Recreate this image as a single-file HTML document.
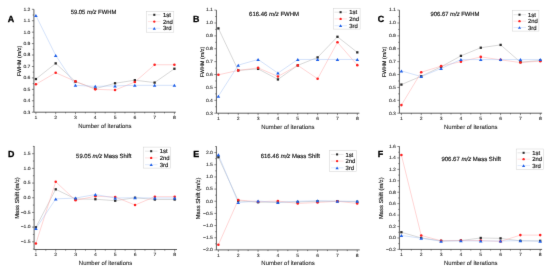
<!DOCTYPE html>
<html><head><meta charset="utf-8"><style>
html,body{margin:0;padding:0;background:#fff;}
svg{display:block;}
text{font-family:"Liberation Sans", Arial, sans-serif;fill:#333333;text-rendering:geometricPrecision;}
.tl{font-size:4.5px;fill:#222;stroke:#333;stroke-width:0.08px;}
.xl{font-size:6px;fill:#1a1a1a;stroke:#1a1a1a;stroke-width:0.08px;}
.yl{font-size:5.5px;fill:#1a1a1a;stroke:#1a1a1a;stroke-width:0.14px;}
.tt{font-size:6px;fill:#111;stroke:#111;stroke-width:0.15px;}
.lt{font-size:8.9px;font-weight:bold;fill:#000;stroke:#000;stroke-width:0.3px;}
.lg{font-size:5.9px;fill:#111;stroke:#111;stroke-width:0.15px;}
</style></head><body>
<svg width="550" height="274" viewBox="0 0 550 274">
<defs><filter id="soft" x="0" y="0" width="550" height="274" filterUnits="userSpaceOnUse" color-interpolation-filters="sRGB"><feConvolveMatrix order="3" kernelMatrix="0.0049 0.0602 0.0049 0.0602 0.7396 0.0602 0.0049 0.0602 0.0049" edgeMode="duplicate"/></filter></defs>
<g filter="url(#soft)">
<rect width="550" height="274" fill="#fff"/>
<g><path d="M33.90,9.30 V112.20 H175.80" fill="none" stroke="#3a3a3a" stroke-width="0.8"/>
<text transform="translate(30.40,113.55) scale(1.12,1)" text-anchor="end" class="tl">0.3</text>
<text transform="translate(30.40,102.12) scale(1.12,1)" text-anchor="end" class="tl">0.4</text>
<text transform="translate(30.40,90.68) scale(1.12,1)" text-anchor="end" class="tl">0.5</text>
<text transform="translate(30.40,79.25) scale(1.12,1)" text-anchor="end" class="tl">0.6</text>
<text transform="translate(30.40,67.82) scale(1.12,1)" text-anchor="end" class="tl">0.7</text>
<text transform="translate(30.40,56.38) scale(1.12,1)" text-anchor="end" class="tl">0.8</text>
<text transform="translate(30.40,44.95) scale(1.12,1)" text-anchor="end" class="tl">0.9</text>
<text transform="translate(30.40,33.52) scale(1.12,1)" text-anchor="end" class="tl">1.0</text>
<text transform="translate(30.40,22.08) scale(1.12,1)" text-anchor="end" class="tl">1.1</text>
<text transform="translate(30.40,10.65) scale(1.12,1)" text-anchor="end" class="tl">1.2</text>
<text transform="translate(35.90,118.90) scale(1.12,1)" text-anchor="middle" class="tl">1</text>
<text transform="translate(55.69,118.90) scale(1.12,1)" text-anchor="middle" class="tl">2</text>
<text transform="translate(75.47,118.90) scale(1.12,1)" text-anchor="middle" class="tl">3</text>
<text transform="translate(95.26,118.90) scale(1.12,1)" text-anchor="middle" class="tl">4</text>
<text transform="translate(115.04,118.90) scale(1.12,1)" text-anchor="middle" class="tl">5</text>
<text transform="translate(134.83,118.90) scale(1.12,1)" text-anchor="middle" class="tl">6</text>
<text transform="translate(154.61,118.90) scale(1.12,1)" text-anchor="middle" class="tl">7</text>
<text transform="translate(174.40,118.90) scale(1.12,1)" text-anchor="middle" class="tl">8</text>
<path d="M33.90,112.20 h-2 M33.90,100.77 h-2 M33.90,89.33 h-2 M33.90,77.90 h-2 M33.90,66.47 h-2 M33.90,55.03 h-2 M33.90,43.60 h-2 M33.90,32.17 h-2 M33.90,20.73 h-2 M33.90,9.30 h-2 M33.90,106.48 h-1.2 M33.90,95.05 h-1.2 M33.90,83.62 h-1.2 M33.90,72.18 h-1.2 M33.90,60.75 h-1.2 M33.90,49.32 h-1.2 M33.90,37.88 h-1.2 M33.90,26.45 h-1.2 M33.90,15.02 h-1.2 M35.90,112.20 v2 M45.79,112.20 v1.2 M55.69,112.20 v2 M65.58,112.20 v1.2 M75.47,112.20 v2 M85.36,112.20 v1.2 M95.26,112.20 v2 M105.15,112.20 v1.2 M115.04,112.20 v2 M124.94,112.20 v1.2 M134.83,112.20 v2 M144.72,112.20 v1.2 M154.61,112.20 v2 M164.51,112.20 v1.2 M174.40,112.20 v2" stroke="#3a3a3a" stroke-width="0.6" fill="none"/>
<text x="104.85" y="127.50" text-anchor="middle" class="xl" textLength="53.4" lengthAdjust="spacingAndGlyphs">Number of iterations</text>
<text transform="translate(20.70,61.05) rotate(-90)" text-anchor="middle" class="yl" style="font-size:5.4px">FWHM (m/z)</text>
<text x="70.70" y="14.10" class="tt" textLength="45.60" lengthAdjust="spacingAndGlyphs">59.05 <tspan font-style="italic">m/z</tspan> FWHM</text>
<text x="7.70" y="22.10" class="lt">A</text>
<polyline points="35.90,79.04 55.69,63.38 75.47,81.67 95.26,88.76 115.04,83.27 134.83,80.19 154.61,82.59 174.40,68.75" fill="none" stroke="#b0b0b0" stroke-width="0.5"/>
<polyline points="35.90,84.30 55.69,72.76 75.47,81.33 95.26,89.33 115.04,90.02 134.83,82.02 154.61,64.75 174.40,64.75" fill="none" stroke="#ffaaaa" stroke-width="0.5"/>
<polyline points="35.90,15.59 55.69,55.38 75.47,85.33 95.26,86.36 115.04,85.90 134.83,85.33 154.61,85.33 174.40,85.33" fill="none" stroke="#a8c4f4" stroke-width="0.5"/>
<rect x="34.75" y="77.89" width="2.30" height="2.30" fill="#2a2a2a"/>
<rect x="54.54" y="62.23" width="2.30" height="2.30" fill="#2a2a2a"/>
<rect x="74.32" y="80.52" width="2.30" height="2.30" fill="#2a2a2a"/>
<rect x="94.11" y="87.61" width="2.30" height="2.30" fill="#2a2a2a"/>
<rect x="113.89" y="82.12" width="2.30" height="2.30" fill="#2a2a2a"/>
<rect x="133.68" y="79.04" width="2.30" height="2.30" fill="#2a2a2a"/>
<rect x="153.46" y="81.44" width="2.30" height="2.30" fill="#2a2a2a"/>
<rect x="173.25" y="67.60" width="2.30" height="2.30" fill="#2a2a2a"/>
<circle cx="35.90" cy="84.30" r="1.30" fill="#ff1f1f"/>
<circle cx="55.69" cy="72.76" r="1.30" fill="#ff1f1f"/>
<circle cx="75.47" cy="81.33" r="1.30" fill="#ff1f1f"/>
<circle cx="95.26" cy="89.33" r="1.30" fill="#ff1f1f"/>
<circle cx="115.04" cy="90.02" r="1.30" fill="#ff1f1f"/>
<circle cx="134.83" cy="82.02" r="1.30" fill="#ff1f1f"/>
<circle cx="154.61" cy="64.75" r="1.30" fill="#ff1f1f"/>
<circle cx="174.40" cy="64.75" r="1.30" fill="#ff1f1f"/>
<polygon points="35.90,14.09 37.70,17.09 34.10,17.09" fill="#1f5fe8"/>
<polygon points="55.69,53.88 57.49,56.88 53.89,56.88" fill="#1f5fe8"/>
<polygon points="75.47,83.83 77.27,86.83 73.67,86.83" fill="#1f5fe8"/>
<polygon points="95.26,84.86 97.06,87.86 93.46,87.86" fill="#1f5fe8"/>
<polygon points="115.04,84.40 116.84,87.40 113.24,87.40" fill="#1f5fe8"/>
<polygon points="134.83,83.83 136.63,86.83 133.03,86.83" fill="#1f5fe8"/>
<polygon points="154.61,83.83 156.41,86.83 152.81,86.83" fill="#1f5fe8"/>
<polygon points="174.40,83.83 176.20,86.83 172.60,86.83" fill="#1f5fe8"/>
<rect x="146.40" y="11.40" width="27.40" height="20.80" fill="#fff" stroke="#d2d2d2" stroke-width="0.5"/>
<path d="M147.90,14.80 H160.40" stroke="#cccccc" stroke-width="0.5"/>
<rect x="153.27" y="13.77" width="2.07" height="2.07" fill="#2a2a2a"/>
<text x="163.00" y="16.90" class="lg">1st</text>
<path d="M147.90,21.60 H160.40" stroke="#ffc4c4" stroke-width="0.5"/>
<circle cx="154.30" cy="21.60" r="1.17" fill="#ff1f1f"/>
<text x="163.00" y="23.70" class="lg">2nd</text>
<path d="M147.90,28.30 H160.40" stroke="#c4d6f8" stroke-width="0.5"/>
<polygon points="154.30,26.95 155.92,29.65 152.68,29.65" fill="#1f5fe8"/>
<text x="163.00" y="30.40" class="lg">3rd</text></g>
<g><path d="M216.40,10.10 V113.20 H359.40" fill="none" stroke="#3a3a3a" stroke-width="0.8"/>
<text transform="translate(212.90,114.55) scale(1.12,1)" text-anchor="end" class="tl">0.3</text>
<text transform="translate(212.90,101.66) scale(1.12,1)" text-anchor="end" class="tl">0.4</text>
<text transform="translate(212.90,88.78) scale(1.12,1)" text-anchor="end" class="tl">0.5</text>
<text transform="translate(212.90,75.89) scale(1.12,1)" text-anchor="end" class="tl">0.6</text>
<text transform="translate(212.90,63.00) scale(1.12,1)" text-anchor="end" class="tl">0.7</text>
<text transform="translate(212.90,50.11) scale(1.12,1)" text-anchor="end" class="tl">0.8</text>
<text transform="translate(212.90,37.23) scale(1.12,1)" text-anchor="end" class="tl">0.9</text>
<text transform="translate(212.90,24.34) scale(1.12,1)" text-anchor="end" class="tl">1.0</text>
<text transform="translate(212.90,11.45) scale(1.12,1)" text-anchor="end" class="tl">1.1</text>
<text transform="translate(218.40,119.90) scale(1.12,1)" text-anchor="middle" class="tl">1</text>
<text transform="translate(238.24,119.90) scale(1.12,1)" text-anchor="middle" class="tl">2</text>
<text transform="translate(258.09,119.90) scale(1.12,1)" text-anchor="middle" class="tl">3</text>
<text transform="translate(277.93,119.90) scale(1.12,1)" text-anchor="middle" class="tl">4</text>
<text transform="translate(297.77,119.90) scale(1.12,1)" text-anchor="middle" class="tl">5</text>
<text transform="translate(317.61,119.90) scale(1.12,1)" text-anchor="middle" class="tl">6</text>
<text transform="translate(337.46,119.90) scale(1.12,1)" text-anchor="middle" class="tl">7</text>
<text transform="translate(357.30,119.90) scale(1.12,1)" text-anchor="middle" class="tl">8</text>
<path d="M216.40,113.20 h-2 M216.40,100.31 h-2 M216.40,87.43 h-2 M216.40,74.54 h-2 M216.40,61.65 h-2 M216.40,48.76 h-2 M216.40,35.88 h-2 M216.40,22.99 h-2 M216.40,10.10 h-2 M216.40,106.76 h-1.2 M216.40,93.87 h-1.2 M216.40,80.98 h-1.2 M216.40,68.09 h-1.2 M216.40,55.21 h-1.2 M216.40,42.32 h-1.2 M216.40,29.43 h-1.2 M216.40,16.54 h-1.2 M218.40,113.20 v2 M228.32,113.20 v1.2 M238.24,113.20 v2 M248.16,113.20 v1.2 M258.09,113.20 v2 M268.01,113.20 v1.2 M277.93,113.20 v2 M287.85,113.20 v1.2 M297.77,113.20 v2 M307.69,113.20 v1.2 M317.61,113.20 v2 M327.54,113.20 v1.2 M337.46,113.20 v2 M347.38,113.20 v1.2 M357.30,113.20 v2" stroke="#3a3a3a" stroke-width="0.6" fill="none"/>
<text x="287.90" y="128.50" text-anchor="middle" class="xl" textLength="53.4" lengthAdjust="spacingAndGlyphs">Number of iterations</text>
<text transform="translate(204.00,61.95) rotate(-90)" text-anchor="middle" class="yl" style="font-size:5.4px">FWHM (m/z)</text>
<text x="249.10" y="15.90" class="tt" textLength="49.90" lengthAdjust="spacingAndGlyphs">616.46 <tspan font-style="italic">m/z</tspan> FWHM</text>
<text x="192.90" y="22.10" class="lt">B</text>
<polyline points="218.40,28.40 238.24,70.41 258.09,68.87 277.93,79.43 297.77,65.39 317.61,57.40 337.46,36.78 357.30,52.37" fill="none" stroke="#b0b0b0" stroke-width="0.5"/>
<polyline points="218.40,74.80 238.24,70.41 258.09,67.84 277.93,76.47 297.77,65.39 317.61,78.79 337.46,42.32 357.30,65.13" fill="none" stroke="#ffaaaa" stroke-width="0.5"/>
<polyline points="218.40,96.19 238.24,65.13 258.09,59.46 277.93,73.12 297.77,59.46 317.61,59.46 337.46,59.46 357.30,59.46" fill="none" stroke="#a8c4f4" stroke-width="0.5"/>
<rect x="217.25" y="27.25" width="2.30" height="2.30" fill="#2a2a2a"/>
<rect x="237.09" y="69.26" width="2.30" height="2.30" fill="#2a2a2a"/>
<rect x="256.94" y="67.72" width="2.30" height="2.30" fill="#2a2a2a"/>
<rect x="276.78" y="78.28" width="2.30" height="2.30" fill="#2a2a2a"/>
<rect x="296.62" y="64.24" width="2.30" height="2.30" fill="#2a2a2a"/>
<rect x="316.46" y="56.25" width="2.30" height="2.30" fill="#2a2a2a"/>
<rect x="336.31" y="35.63" width="2.30" height="2.30" fill="#2a2a2a"/>
<rect x="356.15" y="51.22" width="2.30" height="2.30" fill="#2a2a2a"/>
<circle cx="218.40" cy="74.80" r="1.30" fill="#ff1f1f"/>
<circle cx="238.24" cy="70.41" r="1.30" fill="#ff1f1f"/>
<circle cx="258.09" cy="67.84" r="1.30" fill="#ff1f1f"/>
<circle cx="277.93" cy="76.47" r="1.30" fill="#ff1f1f"/>
<circle cx="297.77" cy="65.39" r="1.30" fill="#ff1f1f"/>
<circle cx="317.61" cy="78.79" r="1.30" fill="#ff1f1f"/>
<circle cx="337.46" cy="42.32" r="1.30" fill="#ff1f1f"/>
<circle cx="357.30" cy="65.13" r="1.30" fill="#ff1f1f"/>
<polygon points="218.40,94.69 220.20,97.69 216.60,97.69" fill="#1f5fe8"/>
<polygon points="238.24,63.63 240.04,66.63 236.44,66.63" fill="#1f5fe8"/>
<polygon points="258.09,57.96 259.89,60.96 256.29,60.96" fill="#1f5fe8"/>
<polygon points="277.93,71.62 279.73,74.62 276.13,74.62" fill="#1f5fe8"/>
<polygon points="297.77,57.96 299.57,60.96 295.97,60.96" fill="#1f5fe8"/>
<polygon points="317.61,57.96 319.41,60.96 315.81,60.96" fill="#1f5fe8"/>
<polygon points="337.46,57.96 339.26,60.96 335.66,60.96" fill="#1f5fe8"/>
<polygon points="357.30,57.96 359.10,60.96 355.50,60.96" fill="#1f5fe8"/>
<rect x="333.30" y="8.40" width="26.80" height="20.70" fill="#fff" stroke="#d2d2d2" stroke-width="0.5"/>
<path d="M334.50,12.20 H347.00" stroke="#cccccc" stroke-width="0.5"/>
<rect x="339.56" y="11.16" width="2.07" height="2.07" fill="#2a2a2a"/>
<text x="349.20" y="14.30" class="lg">1st</text>
<path d="M334.50,18.90 H347.00" stroke="#ffc4c4" stroke-width="0.5"/>
<circle cx="340.60" cy="18.90" r="1.17" fill="#ff1f1f"/>
<text x="349.20" y="21.00" class="lg">2nd</text>
<path d="M334.50,25.70 H347.00" stroke="#c4d6f8" stroke-width="0.5"/>
<polygon points="340.60,24.35 342.22,27.05 338.98,27.05" fill="#1f5fe8"/>
<text x="349.20" y="27.80" class="lg">3rd</text></g>
<g><path d="M399.40,10.10 V113.20 H542.10" fill="none" stroke="#3a3a3a" stroke-width="0.8"/>
<text transform="translate(395.90,114.55) scale(1.12,1)" text-anchor="end" class="tl">0.3</text>
<text transform="translate(395.90,101.66) scale(1.12,1)" text-anchor="end" class="tl">0.4</text>
<text transform="translate(395.90,88.78) scale(1.12,1)" text-anchor="end" class="tl">0.5</text>
<text transform="translate(395.90,75.89) scale(1.12,1)" text-anchor="end" class="tl">0.6</text>
<text transform="translate(395.90,63.00) scale(1.12,1)" text-anchor="end" class="tl">0.7</text>
<text transform="translate(395.90,50.11) scale(1.12,1)" text-anchor="end" class="tl">0.8</text>
<text transform="translate(395.90,37.23) scale(1.12,1)" text-anchor="end" class="tl">0.9</text>
<text transform="translate(395.90,24.34) scale(1.12,1)" text-anchor="end" class="tl">1.0</text>
<text transform="translate(395.90,11.45) scale(1.12,1)" text-anchor="end" class="tl">1.1</text>
<text transform="translate(401.40,119.90) scale(1.12,1)" text-anchor="middle" class="tl">1</text>
<text transform="translate(421.24,119.90) scale(1.12,1)" text-anchor="middle" class="tl">2</text>
<text transform="translate(441.09,119.90) scale(1.12,1)" text-anchor="middle" class="tl">3</text>
<text transform="translate(460.93,119.90) scale(1.12,1)" text-anchor="middle" class="tl">4</text>
<text transform="translate(480.77,119.90) scale(1.12,1)" text-anchor="middle" class="tl">5</text>
<text transform="translate(500.61,119.90) scale(1.12,1)" text-anchor="middle" class="tl">6</text>
<text transform="translate(520.46,119.90) scale(1.12,1)" text-anchor="middle" class="tl">7</text>
<text transform="translate(540.30,119.90) scale(1.12,1)" text-anchor="middle" class="tl">8</text>
<path d="M399.40,113.20 h-2 M399.40,100.31 h-2 M399.40,87.43 h-2 M399.40,74.54 h-2 M399.40,61.65 h-2 M399.40,48.76 h-2 M399.40,35.88 h-2 M399.40,22.99 h-2 M399.40,10.10 h-2 M399.40,106.76 h-1.2 M399.40,93.87 h-1.2 M399.40,80.98 h-1.2 M399.40,68.09 h-1.2 M399.40,55.21 h-1.2 M399.40,42.32 h-1.2 M399.40,29.43 h-1.2 M399.40,16.54 h-1.2 M401.40,113.20 v2 M411.32,113.20 v1.2 M421.24,113.20 v2 M431.16,113.20 v1.2 M441.09,113.20 v2 M451.01,113.20 v1.2 M460.93,113.20 v2 M470.85,113.20 v1.2 M480.77,113.20 v2 M490.69,113.20 v1.2 M500.61,113.20 v2 M510.54,113.20 v1.2 M520.46,113.20 v2 M530.38,113.20 v1.2 M540.30,113.20 v2" stroke="#3a3a3a" stroke-width="0.6" fill="none"/>
<text x="470.75" y="128.50" text-anchor="middle" class="xl" textLength="53.4" lengthAdjust="spacingAndGlyphs">Number of iterations</text>
<text transform="translate(385.80,61.95) rotate(-90)" text-anchor="middle" class="yl" style="font-size:5.4px">FWHM (m/z)</text>
<text x="430.50" y="15.90" class="tt" textLength="49.00" lengthAdjust="spacingAndGlyphs">906.67 <tspan font-style="italic">m/z</tspan> FWHM</text>
<text x="377.70" y="22.30" class="lt">C</text>
<polyline points="401.40,84.59 421.24,76.21 441.09,66.81 460.93,55.85 480.77,47.73 500.61,44.90 520.46,62.17 540.30,60.49" fill="none" stroke="#b0b0b0" stroke-width="0.5"/>
<polyline points="401.40,105.08 421.24,72.22 441.09,66.16 460.93,61.65 480.77,56.88 500.61,59.85 520.46,62.55 540.30,61.13" fill="none" stroke="#ffaaaa" stroke-width="0.5"/>
<polyline points="401.40,70.93 421.24,76.60 441.09,68.48 460.93,59.59 480.77,59.59 500.61,59.59 520.46,59.59 540.30,59.59" fill="none" stroke="#a8c4f4" stroke-width="0.5"/>
<rect x="400.25" y="83.44" width="2.30" height="2.30" fill="#2a2a2a"/>
<rect x="420.09" y="75.06" width="2.30" height="2.30" fill="#2a2a2a"/>
<rect x="439.94" y="65.66" width="2.30" height="2.30" fill="#2a2a2a"/>
<rect x="459.78" y="54.70" width="2.30" height="2.30" fill="#2a2a2a"/>
<rect x="479.62" y="46.58" width="2.30" height="2.30" fill="#2a2a2a"/>
<rect x="499.46" y="43.75" width="2.30" height="2.30" fill="#2a2a2a"/>
<rect x="519.31" y="61.02" width="2.30" height="2.30" fill="#2a2a2a"/>
<rect x="539.15" y="59.34" width="2.30" height="2.30" fill="#2a2a2a"/>
<circle cx="401.40" cy="105.08" r="1.30" fill="#ff1f1f"/>
<circle cx="421.24" cy="72.22" r="1.30" fill="#ff1f1f"/>
<circle cx="441.09" cy="66.16" r="1.30" fill="#ff1f1f"/>
<circle cx="460.93" cy="61.65" r="1.30" fill="#ff1f1f"/>
<circle cx="480.77" cy="56.88" r="1.30" fill="#ff1f1f"/>
<circle cx="500.61" cy="59.85" r="1.30" fill="#ff1f1f"/>
<circle cx="520.46" cy="62.55" r="1.30" fill="#ff1f1f"/>
<circle cx="540.30" cy="61.13" r="1.30" fill="#ff1f1f"/>
<polygon points="401.40,69.43 403.20,72.43 399.60,72.43" fill="#1f5fe8"/>
<polygon points="421.24,75.10 423.04,78.10 419.44,78.10" fill="#1f5fe8"/>
<polygon points="441.09,66.98 442.89,69.98 439.29,69.98" fill="#1f5fe8"/>
<polygon points="460.93,58.09 462.73,61.09 459.13,61.09" fill="#1f5fe8"/>
<polygon points="480.77,58.09 482.57,61.09 478.97,61.09" fill="#1f5fe8"/>
<polygon points="500.61,58.09 502.41,61.09 498.81,61.09" fill="#1f5fe8"/>
<polygon points="520.46,58.09 522.26,61.09 518.66,61.09" fill="#1f5fe8"/>
<polygon points="540.30,58.09 542.10,61.09 538.50,61.09" fill="#1f5fe8"/>
<rect x="512.40" y="10.40" width="26.50" height="20.70" fill="#fff" stroke="#d2d2d2" stroke-width="0.5"/>
<path d="M513.50,14.70 H526.00" stroke="#cccccc" stroke-width="0.5"/>
<rect x="518.47" y="13.66" width="2.07" height="2.07" fill="#2a2a2a"/>
<text x="528.00" y="16.80" class="lg">1st</text>
<path d="M513.50,21.20 H526.00" stroke="#ffc4c4" stroke-width="0.5"/>
<circle cx="519.50" cy="21.20" r="1.17" fill="#ff1f1f"/>
<text x="528.00" y="23.30" class="lg">2nd</text>
<path d="M513.50,27.50 H526.00" stroke="#c4d6f8" stroke-width="0.5"/>
<polygon points="519.50,26.15 521.12,28.85 517.88,28.85" fill="#1f5fe8"/>
<text x="528.00" y="29.60" class="lg">3rd</text></g>
<g><path d="M34.10,146.00 V249.50 H177.00" fill="none" stroke="#3a3a3a" stroke-width="0.8"/>
<text transform="translate(30.60,243.15) scale(1.12,1)" text-anchor="end" class="tl">−1.5</text>
<text transform="translate(30.60,228.47) scale(1.12,1)" text-anchor="end" class="tl">−1.0</text>
<text transform="translate(30.60,213.78) scale(1.12,1)" text-anchor="end" class="tl">−0.5</text>
<text transform="translate(30.60,199.10) scale(1.12,1)" text-anchor="end" class="tl">0.0</text>
<text transform="translate(30.60,184.42) scale(1.12,1)" text-anchor="end" class="tl">0.5</text>
<text transform="translate(30.60,169.73) scale(1.12,1)" text-anchor="end" class="tl">1.0</text>
<text transform="translate(30.60,155.05) scale(1.12,1)" text-anchor="end" class="tl">1.5</text>
<text transform="translate(35.90,256.20) scale(1.12,1)" text-anchor="middle" class="tl">1</text>
<text transform="translate(55.73,256.20) scale(1.12,1)" text-anchor="middle" class="tl">2</text>
<text transform="translate(75.56,256.20) scale(1.12,1)" text-anchor="middle" class="tl">3</text>
<text transform="translate(95.39,256.20) scale(1.12,1)" text-anchor="middle" class="tl">4</text>
<text transform="translate(115.21,256.20) scale(1.12,1)" text-anchor="middle" class="tl">5</text>
<text transform="translate(135.04,256.20) scale(1.12,1)" text-anchor="middle" class="tl">6</text>
<text transform="translate(154.87,256.20) scale(1.12,1)" text-anchor="middle" class="tl">7</text>
<text transform="translate(174.70,256.20) scale(1.12,1)" text-anchor="middle" class="tl">8</text>
<path d="M34.10,241.80 h-2 M34.10,227.12 h-2 M34.10,212.43 h-2 M34.10,197.75 h-2 M34.10,183.07 h-2 M34.10,168.38 h-2 M34.10,153.70 h-2 M34.10,249.14 h-1.2 M34.10,234.46 h-1.2 M34.10,219.78 h-1.2 M34.10,205.09 h-1.2 M34.10,190.41 h-1.2 M34.10,175.72 h-1.2 M34.10,161.04 h-1.2 M34.10,146.36 h-1.2 M35.90,249.50 v2 M45.81,249.50 v1.2 M55.73,249.50 v2 M65.64,249.50 v1.2 M75.56,249.50 v2 M85.47,249.50 v1.2 M95.39,249.50 v2 M105.30,249.50 v1.2 M115.21,249.50 v2 M125.13,249.50 v1.2 M135.04,249.50 v2 M144.96,249.50 v1.2 M154.87,249.50 v2 M164.79,249.50 v1.2 M174.70,249.50 v2" stroke="#3a3a3a" stroke-width="0.6" fill="none"/>
<text x="105.55" y="264.80" text-anchor="middle" class="xl" textLength="53.4" lengthAdjust="spacingAndGlyphs">Number of iterations</text>
<text transform="translate(18.80,198.05) rotate(-90)" text-anchor="middle" class="yl" style="font-size:5.75px">Mass Shift (m/z)</text>
<text x="76.10" y="158.00" class="tt" textLength="55.40" lengthAdjust="spacingAndGlyphs">59.05 <tspan font-style="italic">m/z</tspan> Mass Shift</text>
<text x="8.00" y="157.20" class="lt">D</text>
<polyline points="35.90,227.29 55.73,189.32 75.56,198.92 95.39,199.22 115.21,200.69 135.04,197.75 154.87,199.51 174.70,199.51" fill="none" stroke="#b0b0b0" stroke-width="0.5"/>
<polyline points="35.90,243.50 55.73,181.75 75.56,200.30 95.39,196.28 115.21,196.99 135.04,205.00 154.87,196.69 174.70,196.69" fill="none" stroke="#ffaaaa" stroke-width="0.5"/>
<polyline points="35.90,228.58 55.73,198.92 75.56,198.04 95.39,194.52 115.21,198.04 135.04,197.75 154.87,198.04 174.70,198.04" fill="none" stroke="#a8c4f4" stroke-width="0.5"/>
<rect x="34.75" y="226.14" width="2.30" height="2.30" fill="#2a2a2a"/>
<rect x="54.58" y="188.17" width="2.30" height="2.30" fill="#2a2a2a"/>
<rect x="74.41" y="197.77" width="2.30" height="2.30" fill="#2a2a2a"/>
<rect x="94.24" y="198.07" width="2.30" height="2.30" fill="#2a2a2a"/>
<rect x="114.06" y="199.54" width="2.30" height="2.30" fill="#2a2a2a"/>
<rect x="133.89" y="196.60" width="2.30" height="2.30" fill="#2a2a2a"/>
<rect x="153.72" y="198.36" width="2.30" height="2.30" fill="#2a2a2a"/>
<rect x="173.55" y="198.36" width="2.30" height="2.30" fill="#2a2a2a"/>
<circle cx="35.90" cy="243.50" r="1.30" fill="#ff1f1f"/>
<circle cx="55.73" cy="181.75" r="1.30" fill="#ff1f1f"/>
<circle cx="75.56" cy="200.30" r="1.30" fill="#ff1f1f"/>
<circle cx="95.39" cy="196.28" r="1.30" fill="#ff1f1f"/>
<circle cx="115.21" cy="196.99" r="1.30" fill="#ff1f1f"/>
<circle cx="135.04" cy="205.00" r="1.30" fill="#ff1f1f"/>
<circle cx="154.87" cy="196.69" r="1.30" fill="#ff1f1f"/>
<circle cx="174.70" cy="196.69" r="1.30" fill="#ff1f1f"/>
<polygon points="35.90,227.08 37.70,230.08 34.10,230.08" fill="#1f5fe8"/>
<polygon points="55.73,197.42 57.53,200.42 53.93,200.42" fill="#1f5fe8"/>
<polygon points="75.56,196.54 77.36,199.54 73.76,199.54" fill="#1f5fe8"/>
<polygon points="95.39,193.02 97.19,196.02 93.59,196.02" fill="#1f5fe8"/>
<polygon points="115.21,196.54 117.01,199.54 113.41,199.54" fill="#1f5fe8"/>
<polygon points="135.04,196.25 136.84,199.25 133.24,199.25" fill="#1f5fe8"/>
<polygon points="154.87,196.54 156.67,199.54 153.07,199.54" fill="#1f5fe8"/>
<polygon points="174.70,196.54 176.50,199.54 172.90,199.54" fill="#1f5fe8"/>
<rect x="143.60" y="147.10" width="27.00" height="21.00" fill="#fff" stroke="#d2d2d2" stroke-width="0.5"/>
<path d="M145.00,151.20 H157.50" stroke="#cccccc" stroke-width="0.5"/>
<rect x="150.16" y="150.16" width="2.07" height="2.07" fill="#2a2a2a"/>
<text x="159.80" y="153.30" class="lg">1st</text>
<path d="M145.00,157.90 H157.50" stroke="#ffc4c4" stroke-width="0.5"/>
<circle cx="151.20" cy="157.90" r="1.17" fill="#ff1f1f"/>
<text x="159.80" y="160.00" class="lg">2nd</text>
<path d="M145.00,164.70 H157.50" stroke="#c4d6f8" stroke-width="0.5"/>
<polygon points="151.20,163.35 152.82,166.05 149.58,166.05" fill="#1f5fe8"/>
<text x="159.80" y="166.80" class="lg">3rd</text></g>
<g><path d="M216.40,146.30 V249.90 H359.70" fill="none" stroke="#3a3a3a" stroke-width="0.8"/>
<text transform="translate(212.90,251.25) scale(1.12,1)" text-anchor="end" class="tl">−2.0</text>
<text transform="translate(212.90,239.09) scale(1.12,1)" text-anchor="end" class="tl">−1.5</text>
<text transform="translate(212.90,226.92) scale(1.12,1)" text-anchor="end" class="tl">−1.0</text>
<text transform="translate(212.90,214.76) scale(1.12,1)" text-anchor="end" class="tl">−0.5</text>
<text transform="translate(212.90,202.60) scale(1.12,1)" text-anchor="end" class="tl">0.0</text>
<text transform="translate(212.90,190.44) scale(1.12,1)" text-anchor="end" class="tl">0.5</text>
<text transform="translate(212.90,178.28) scale(1.12,1)" text-anchor="end" class="tl">1.0</text>
<text transform="translate(212.90,166.11) scale(1.12,1)" text-anchor="end" class="tl">1.5</text>
<text transform="translate(212.90,153.95) scale(1.12,1)" text-anchor="end" class="tl">2.0</text>
<text transform="translate(218.40,256.60) scale(1.12,1)" text-anchor="middle" class="tl">1</text>
<text transform="translate(238.23,256.60) scale(1.12,1)" text-anchor="middle" class="tl">2</text>
<text transform="translate(258.06,256.60) scale(1.12,1)" text-anchor="middle" class="tl">3</text>
<text transform="translate(277.89,256.60) scale(1.12,1)" text-anchor="middle" class="tl">4</text>
<text transform="translate(297.71,256.60) scale(1.12,1)" text-anchor="middle" class="tl">5</text>
<text transform="translate(317.54,256.60) scale(1.12,1)" text-anchor="middle" class="tl">6</text>
<text transform="translate(337.37,256.60) scale(1.12,1)" text-anchor="middle" class="tl">7</text>
<text transform="translate(357.20,256.60) scale(1.12,1)" text-anchor="middle" class="tl">8</text>
<path d="M216.40,249.90 h-2 M216.40,237.74 h-2 M216.40,225.57 h-2 M216.40,213.41 h-2 M216.40,201.25 h-2 M216.40,189.09 h-2 M216.40,176.93 h-2 M216.40,164.76 h-2 M216.40,152.60 h-2 M216.40,243.82 h-1.2 M216.40,231.66 h-1.2 M216.40,219.49 h-1.2 M216.40,207.33 h-1.2 M216.40,195.17 h-1.2 M216.40,183.01 h-1.2 M216.40,170.84 h-1.2 M216.40,158.68 h-1.2 M216.40,146.52 h-1.2 M218.40,249.90 v2 M228.31,249.90 v1.2 M238.23,249.90 v2 M248.14,249.90 v1.2 M258.06,249.90 v2 M267.97,249.90 v1.2 M277.89,249.90 v2 M287.80,249.90 v1.2 M297.71,249.90 v2 M307.63,249.90 v1.2 M317.54,249.90 v2 M327.46,249.90 v1.2 M337.37,249.90 v2 M347.29,249.90 v1.2 M357.20,249.90 v2" stroke="#3a3a3a" stroke-width="0.6" fill="none"/>
<text x="288.05" y="265.20" text-anchor="middle" class="xl" textLength="53.4" lengthAdjust="spacingAndGlyphs">Number of iterations</text>
<text transform="translate(200.40,198.40) rotate(-90)" text-anchor="middle" class="yl" style="font-size:5.75px">Mass Shift (m/z)</text>
<text x="260.70" y="158.40" class="tt" textLength="59.20" lengthAdjust="spacingAndGlyphs">616.46 <tspan font-style="italic">m/z</tspan> Mass Shift</text>
<text x="193.20" y="157.40" class="lt">E</text>
<polyline points="218.40,157.22 238.23,200.76 258.06,202.22 277.89,202.22 297.71,201.98 317.54,201.25 337.37,201.25 357.20,201.74" fill="none" stroke="#b0b0b0" stroke-width="0.5"/>
<polyline points="218.40,244.79 238.23,199.96 258.06,201.74 277.89,201.01 297.71,203.44 317.54,202.47 337.37,201.25 357.20,203.44" fill="none" stroke="#ffaaaa" stroke-width="0.5"/>
<polyline points="218.40,154.79 238.23,202.54 258.06,201.01 277.89,202.47 297.71,201.25 317.54,200.76 337.37,201.25 357.20,201.25" fill="none" stroke="#a8c4f4" stroke-width="0.5"/>
<rect x="217.25" y="156.07" width="2.30" height="2.30" fill="#2a2a2a"/>
<rect x="237.08" y="199.61" width="2.30" height="2.30" fill="#2a2a2a"/>
<rect x="256.91" y="201.07" width="2.30" height="2.30" fill="#2a2a2a"/>
<rect x="276.74" y="201.07" width="2.30" height="2.30" fill="#2a2a2a"/>
<rect x="296.56" y="200.83" width="2.30" height="2.30" fill="#2a2a2a"/>
<rect x="316.39" y="200.10" width="2.30" height="2.30" fill="#2a2a2a"/>
<rect x="336.22" y="200.10" width="2.30" height="2.30" fill="#2a2a2a"/>
<rect x="356.05" y="200.59" width="2.30" height="2.30" fill="#2a2a2a"/>
<circle cx="218.40" cy="244.79" r="1.30" fill="#ff1f1f"/>
<circle cx="238.23" cy="199.96" r="1.30" fill="#ff1f1f"/>
<circle cx="258.06" cy="201.74" r="1.30" fill="#ff1f1f"/>
<circle cx="277.89" cy="201.01" r="1.30" fill="#ff1f1f"/>
<circle cx="297.71" cy="203.44" r="1.30" fill="#ff1f1f"/>
<circle cx="317.54" cy="202.47" r="1.30" fill="#ff1f1f"/>
<circle cx="337.37" cy="201.25" r="1.30" fill="#ff1f1f"/>
<circle cx="357.20" cy="203.44" r="1.30" fill="#ff1f1f"/>
<polygon points="218.40,153.29 220.20,156.29 216.60,156.29" fill="#1f5fe8"/>
<polygon points="238.23,201.04 240.03,204.04 236.43,204.04" fill="#1f5fe8"/>
<polygon points="258.06,199.51 259.86,202.51 256.26,202.51" fill="#1f5fe8"/>
<polygon points="277.89,200.97 279.69,203.97 276.09,203.97" fill="#1f5fe8"/>
<polygon points="297.71,199.75 299.51,202.75 295.91,202.75" fill="#1f5fe8"/>
<polygon points="317.54,199.26 319.34,202.26 315.74,202.26" fill="#1f5fe8"/>
<polygon points="337.37,199.75 339.17,202.75 335.57,202.75" fill="#1f5fe8"/>
<polygon points="357.20,199.75 359.00,202.75 355.40,202.75" fill="#1f5fe8"/>
<rect x="329.50" y="150.30" width="26.80" height="21.00" fill="#fff" stroke="#d2d2d2" stroke-width="0.5"/>
<path d="M331.00,154.40 H343.50" stroke="#cccccc" stroke-width="0.5"/>
<rect x="336.06" y="153.37" width="2.07" height="2.07" fill="#2a2a2a"/>
<text x="345.40" y="156.50" class="lg">1st</text>
<path d="M331.00,161.10 H343.50" stroke="#ffc4c4" stroke-width="0.5"/>
<circle cx="337.10" cy="161.10" r="1.17" fill="#ff1f1f"/>
<text x="345.40" y="163.20" class="lg">2nd</text>
<path d="M331.00,167.80 H343.50" stroke="#c4d6f8" stroke-width="0.5"/>
<polygon points="337.10,166.45 338.72,169.15 335.48,169.15" fill="#1f5fe8"/>
<text x="345.40" y="169.90" class="lg">3rd</text></g>
<g><path d="M399.40,146.30 V249.40 H542.10" fill="none" stroke="#3a3a3a" stroke-width="0.8"/>
<text transform="translate(395.90,250.75) scale(1.12,1)" text-anchor="end" class="tl">−0.2</text>
<text transform="translate(395.90,239.32) scale(1.12,1)" text-anchor="end" class="tl">0.0</text>
<text transform="translate(395.90,227.88) scale(1.12,1)" text-anchor="end" class="tl">0.2</text>
<text transform="translate(395.90,216.45) scale(1.12,1)" text-anchor="end" class="tl">0.4</text>
<text transform="translate(395.90,205.02) scale(1.12,1)" text-anchor="end" class="tl">0.6</text>
<text transform="translate(395.90,193.58) scale(1.12,1)" text-anchor="end" class="tl">0.8</text>
<text transform="translate(395.90,182.15) scale(1.12,1)" text-anchor="end" class="tl">1.0</text>
<text transform="translate(395.90,170.72) scale(1.12,1)" text-anchor="end" class="tl">1.2</text>
<text transform="translate(395.90,159.28) scale(1.12,1)" text-anchor="end" class="tl">1.4</text>
<text transform="translate(395.90,147.85) scale(1.12,1)" text-anchor="end" class="tl">1.6</text>
<text transform="translate(401.40,256.10) scale(1.12,1)" text-anchor="middle" class="tl">1</text>
<text transform="translate(421.23,256.10) scale(1.12,1)" text-anchor="middle" class="tl">2</text>
<text transform="translate(441.06,256.10) scale(1.12,1)" text-anchor="middle" class="tl">3</text>
<text transform="translate(460.89,256.10) scale(1.12,1)" text-anchor="middle" class="tl">4</text>
<text transform="translate(480.71,256.10) scale(1.12,1)" text-anchor="middle" class="tl">5</text>
<text transform="translate(500.54,256.10) scale(1.12,1)" text-anchor="middle" class="tl">6</text>
<text transform="translate(520.37,256.10) scale(1.12,1)" text-anchor="middle" class="tl">7</text>
<text transform="translate(540.20,256.10) scale(1.12,1)" text-anchor="middle" class="tl">8</text>
<path d="M399.40,249.40 h-2 M399.40,237.97 h-2 M399.40,226.53 h-2 M399.40,215.10 h-2 M399.40,203.67 h-2 M399.40,192.23 h-2 M399.40,180.80 h-2 M399.40,169.37 h-2 M399.40,157.93 h-2 M399.40,146.50 h-2 M399.40,243.68 h-1.2 M399.40,232.25 h-1.2 M399.40,220.82 h-1.2 M399.40,209.38 h-1.2 M399.40,197.95 h-1.2 M399.40,186.52 h-1.2 M399.40,175.08 h-1.2 M399.40,163.65 h-1.2 M399.40,152.22 h-1.2 M401.40,249.40 v2 M411.31,249.40 v1.2 M421.23,249.40 v2 M431.14,249.40 v1.2 M441.06,249.40 v2 M450.97,249.40 v1.2 M460.89,249.40 v2 M470.80,249.40 v1.2 M480.71,249.40 v2 M490.63,249.40 v1.2 M500.54,249.40 v2 M510.46,249.40 v1.2 M520.37,249.40 v2 M530.29,249.40 v1.2 M540.20,249.40 v2" stroke="#3a3a3a" stroke-width="0.6" fill="none"/>
<text x="470.75" y="264.70" text-anchor="middle" class="xl" textLength="53.4" lengthAdjust="spacingAndGlyphs">Number of iterations</text>
<text transform="translate(383.30,198.15) rotate(-90)" text-anchor="middle" class="yl" style="font-size:5.75px">Mass Shift (m/z)</text>
<text x="441.40" y="160.50" class="tt" textLength="59.50" lengthAdjust="spacingAndGlyphs">906.67 <tspan font-style="italic">m/z</tspan> Mass Shift</text>
<text x="377.80" y="157.40" class="lt">F</text>
<polyline points="401.40,232.25 421.23,237.97 441.06,240.83 460.89,240.54 480.71,237.97 500.54,238.37 520.37,240.83 540.20,240.83" fill="none" stroke="#b0b0b0" stroke-width="0.5"/>
<polyline points="401.40,154.96 421.23,235.45 441.06,240.83 460.89,240.54 480.71,240.54 500.54,241.40 520.37,235.11 540.20,235.11" fill="none" stroke="#ffaaaa" stroke-width="0.5"/>
<polyline points="401.40,235.45 421.23,238.25 441.06,241.17 460.89,240.77 480.71,241.00 500.54,241.00 520.37,240.65 540.20,241.28" fill="none" stroke="#a8c4f4" stroke-width="0.5"/>
<rect x="400.25" y="231.10" width="2.30" height="2.30" fill="#2a2a2a"/>
<rect x="420.08" y="236.82" width="2.30" height="2.30" fill="#2a2a2a"/>
<rect x="439.91" y="239.68" width="2.30" height="2.30" fill="#2a2a2a"/>
<rect x="459.74" y="239.39" width="2.30" height="2.30" fill="#2a2a2a"/>
<rect x="479.56" y="236.82" width="2.30" height="2.30" fill="#2a2a2a"/>
<rect x="499.39" y="237.22" width="2.30" height="2.30" fill="#2a2a2a"/>
<rect x="519.22" y="239.68" width="2.30" height="2.30" fill="#2a2a2a"/>
<rect x="539.05" y="239.68" width="2.30" height="2.30" fill="#2a2a2a"/>
<circle cx="401.40" cy="154.96" r="1.30" fill="#ff1f1f"/>
<circle cx="421.23" cy="235.45" r="1.30" fill="#ff1f1f"/>
<circle cx="441.06" cy="240.83" r="1.30" fill="#ff1f1f"/>
<circle cx="460.89" cy="240.54" r="1.30" fill="#ff1f1f"/>
<circle cx="480.71" cy="240.54" r="1.30" fill="#ff1f1f"/>
<circle cx="500.54" cy="241.40" r="1.30" fill="#ff1f1f"/>
<circle cx="520.37" cy="235.11" r="1.30" fill="#ff1f1f"/>
<circle cx="540.20" cy="235.11" r="1.30" fill="#ff1f1f"/>
<polygon points="401.40,233.95 403.20,236.95 399.60,236.95" fill="#1f5fe8"/>
<polygon points="421.23,236.75 423.03,239.75 419.43,239.75" fill="#1f5fe8"/>
<polygon points="441.06,239.67 442.86,242.67 439.26,242.67" fill="#1f5fe8"/>
<polygon points="460.89,239.27 462.69,242.27 459.09,242.27" fill="#1f5fe8"/>
<polygon points="480.71,239.50 482.51,242.50 478.91,242.50" fill="#1f5fe8"/>
<polygon points="500.54,239.50 502.34,242.50 498.74,242.50" fill="#1f5fe8"/>
<polygon points="520.37,239.15 522.17,242.15 518.57,242.15" fill="#1f5fe8"/>
<polygon points="540.20,239.78 542.00,242.78 538.40,242.78" fill="#1f5fe8"/>
<rect x="516.20" y="149.00" width="27.20" height="20.40" fill="#fff" stroke="#d2d2d2" stroke-width="0.5"/>
<path d="M517.50,152.80 H530.00" stroke="#cccccc" stroke-width="0.5"/>
<rect x="522.57" y="151.77" width="2.07" height="2.07" fill="#2a2a2a"/>
<text x="532.30" y="154.90" class="lg">1st</text>
<path d="M517.50,159.20 H530.00" stroke="#ffc4c4" stroke-width="0.5"/>
<circle cx="523.60" cy="159.20" r="1.17" fill="#ff1f1f"/>
<text x="532.30" y="161.30" class="lg">2nd</text>
<path d="M517.50,165.60 H530.00" stroke="#c4d6f8" stroke-width="0.5"/>
<polygon points="523.60,164.25 525.22,166.95 521.98,166.95" fill="#1f5fe8"/>
<text x="532.30" y="167.70" class="lg">3rd</text></g>
</g>
</svg>
</body></html>
